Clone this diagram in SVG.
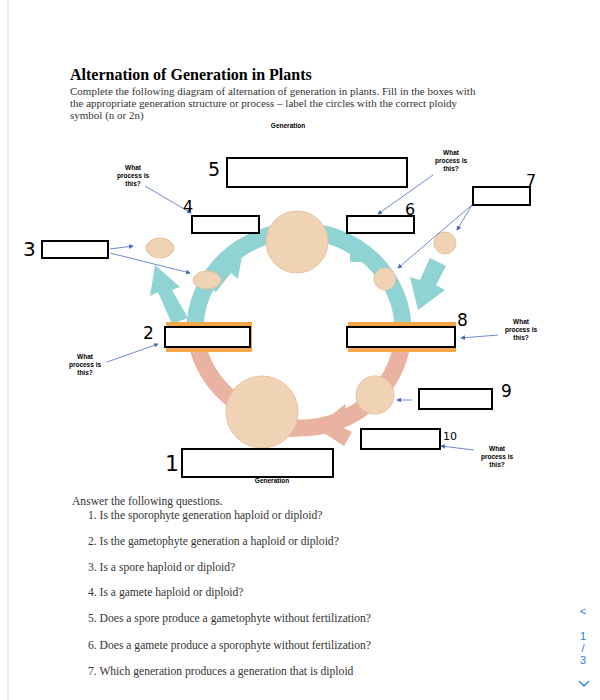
<svg xmlns="http://www.w3.org/2000/svg" width="600" height="700" viewBox="0 0 600 700">
<defs>
<style>
.s{font-family:"Liberation Serif",serif;font-size:11.6px;fill:#333}
.s2{font-family:"Liberation Serif",serif;font-size:11px;fill:#333}
.q{font-family:"Liberation Sans",sans-serif;font-size:6.5px;font-weight:bold;text-anchor:middle}
.box{fill:#fff;stroke:#000;stroke-width:2}
.cell{fill:#f0d2b4;stroke:#e6c3a0;stroke-width:1}
.ln{stroke:#4a6cc0;stroke-width:0.8;fill:none;marker-end:url(#a)}
.nav{font-family:"Liberation Sans",sans-serif;font-size:11px;fill:#2a7be0;text-anchor:middle}
</style>
<marker id="a" markerWidth="6" markerHeight="6" refX="5" refY="3" orient="auto"><path d="M0,0L6,3L0,6z" fill="#4a6cc0"/></marker>
</defs>
<rect width="600" height="700" fill="#fff"/>
<line x1="8" y1="0" x2="8" y2="700" stroke="#ddd"/>
<text x="70" y="80" font-family="Liberation Serif,serif" font-size="16" font-weight="bold">Alternation of Generation in Plants</text>
<text class="s2" x="70" y="95">Complete the following diagram of alternation of generation in plants. Fill in the boxes with</text>
<text class="s2" x="70" y="107">the appropriate generation structure or process – label the circles with the correct ploidy</text>
<text class="s2" x="70" y="119">symbol (n or 2n)</text>
<text class="q" x="288" y="128">Generation</text>
<g id="connectors">
<path d="M195,330 A103,98 0 0 1 403,330" fill="none" stroke="#8fd3d3" stroke-width="17"/>
<path d="M403,330 A103,98 0 0 1 300,428 L262,430" fill="none" stroke="#eab3a1" stroke-width="17"/>
<path d="M195,330 A103,98 0 0 0 240,405" fill="none" stroke="#eab3a1" stroke-width="17"/>
<path d="M188,318 L172,290 L180,287 L155,265 L150,296 L158,292 L172,324z" fill="#8fd3d3"/>
<path d="M205,285 L222,265 L215,260 L243,250 L238,279 L231,273 L216,292z" fill="#8fd3d3"/>
<path d="M340,232 L360,242 L355,248 L378,262 L350,262 L350,254 L336,246z" fill="#8fd3d3"/>
<path d="M430,258 L446,266 L436,285 L445,290 L418,310 L410,277 L420,280z" fill="#8fd3d3"/>
<path d="M356,416 L344,428 L352,432 L344,446 L316,428 L345,404 L347,413z" fill="#eab3a1"/>
</g>
<g id="bars">
<rect x="166" y="322" width="86" height="30" fill="#f3a64a"/>
<rect x="348" y="322" width="108" height="30" fill="#f3a64a"/>
</g>
<g id="cells">
<ellipse class="cell" cx="160" cy="248" rx="14" ry="10"/>
<ellipse class="cell" cx="207" cy="280" rx="14" ry="9"/>
<circle class="cell" cx="297" cy="242" r="31"/>
<circle class="cell" cx="385" cy="279" r="11"/>
<circle class="cell" cx="445" cy="243" r="11"/>
<circle class="cell" cx="375" cy="395" r="19"/>
<circle class="cell" cx="262" cy="412" r="36"/>
</g>
<g id="boxes">
<rect id="b5" class="box" x="227" y="158" width="180" height="29"/>
<rect id="b4" class="box" x="192" y="216" width="67" height="17"/>
<rect id="b6" class="box" x="347" y="216" width="67" height="17"/>
<rect id="b7" class="box" x="473" y="187" width="57" height="18"/>
<rect id="b3" class="box" x="42" y="241" width="66" height="17"/>
<rect id="b2" class="box" x="165" y="327" width="85" height="20"/>
<rect id="b8" class="box" x="347" y="327" width="108" height="20"/>
<rect id="b9" class="box" x="419" y="389" width="73" height="20"/>
<rect id="b10" class="box" x="361" y="429" width="79" height="20"/>
<rect id="b1" class="box" x="182" y="449" width="151" height="28"/>
</g>
<text class="q" x="272" y="483">Generation</text>
<g id="labels">
<text class="q" x="133" y="170">What<tspan x="133" dy="8">process is</tspan><tspan x="133" dy="8">this?</tspan></text>
<text class="q" x="451" y="155">What<tspan x="451" dy="8">process is</tspan><tspan x="451" dy="8">this?</tspan></text>
<text class="q" x="521" y="324">What<tspan x="521" dy="8">process is</tspan><tspan x="521" dy="8">this?</tspan></text>
<text class="q" x="85" y="359">What<tspan x="85" dy="8">process is</tspan><tspan x="85" dy="8">this?</tspan></text>
<text class="q" x="497" y="451">What<tspan x="497" dy="8">process is</tspan><tspan x="497" dy="8">this?</tspan></text>
</g>
<g id="pointers">
<path class="ln" d="M145,186 L191,213"/>
<path class="ln" d="M433,175 L378,214"/>
<path class="ln" d="M472,205 L398,268"/>
<path class="ln" d="M472,205 L457,230"/>
<path class="ln" d="M110,249 L133,246"/>
<path class="ln" d="M110,253 L190,273"/>
<path class="ln" d="M107,362 L158,344"/>
<path class="ln" d="M498,335 L461,338"/>
<path class="ln" d="M412,400 L397,400"/>
<path class="ln" d="M474,450 L441,446"/>
</g>
<g id="hand" font-family="DejaVu Sans,sans-serif" font-size="19" fill="#000">
<text x="208" y="176">5</text>
<text x="183" y="212" font-size="16">4</text>
<text x="405" y="215" font-size="16">6</text>
<text x="526" y="186" font-size="16">7</text>
<text x="23" y="256" font-size="20">3</text>
<text x="143" y="339" font-size="17">2</text>
<text x="457" y="326" font-size="17">8</text>
<text x="501" y="397" font-size="17">9</text>
<text x="443" y="440" font-size="11">10</text>
<text x="165" y="471" font-size="22">1</text>
</g>
<text class="s" x="72" y="505">Answer the following questions.</text>
<g class="s">
<text x="88" y="519">1.   Is the sporophyte generation haploid or diploid?</text>
<text x="88" y="545">2.   Is the gametophyte generation a haploid or diploid?</text>
<text x="88" y="571">3.   Is a spore haploid or diploid?</text>
<text x="88" y="596">4.   Is a gamete haploid or diploid?</text>
<text x="88" y="622">5.   Does a spore produce a gametophyte without fertilization?</text>
<text x="88" y="649">6.   Does a gamete produce a sporophyte without fertilization?</text>
<text x="88" y="675">7.   Which generation produces a generation that is diploid</text>
</g>
<g id="nav">
<text class="nav" x="583" y="615">&lt;</text>
<text class="nav" x="583" y="640" font-size="9">1</text>
<text class="nav" x="583" y="652" font-size="9">/</text>
<text class="nav" x="583" y="664" font-size="9">3</text>
<path d="M579,681 L584,686 L589,681" fill="none" stroke="#2a7be0" stroke-width="1.3"/>
</g>
</svg>
